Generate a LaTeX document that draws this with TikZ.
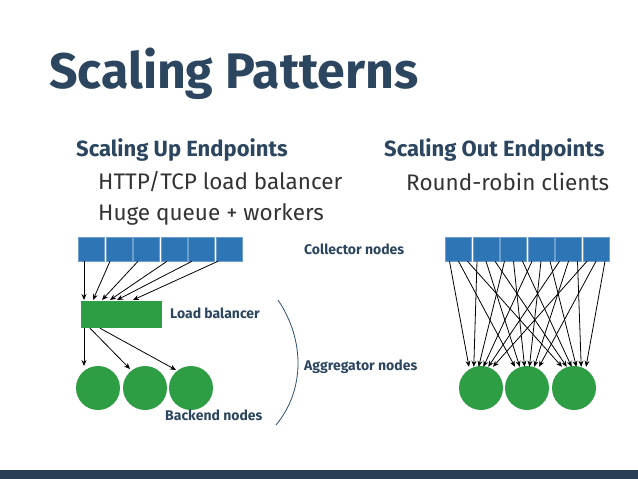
\documentclass[tikz,border=0pt]{standalone}
\usepackage{fontspec}
\setmainfont{Fira Sans}
\usetikzlibrary{arrows.meta,calc}
\definecolor{navy}{HTML}{2C4660}
\definecolor{sq}{HTML}{2E75B6}
\definecolor{gr}{HTML}{2E9E44}
\definecolor{txt}{HTML}{333333}
\begin{document}
\begin{tikzpicture}[x=1pt,y=-1pt,
  sqr/.style={fill=sq,draw=sq!70!white,minimum width=26pt,minimum height=24pt,inner sep=0,line width=0.5pt},
  circ/.style={circle,fill=gr,minimum size=44pt,inner sep=0},
  arr/.style={-{Stealth[length=6pt,width=5pt]},line width=0.8pt},
  lbl/.style={font=\bfseries\fontsize{14}{16}\selectfont,text=navy,inner sep=0},
  head/.style={font=\bfseries\fontsize{22}{26}\selectfont,text=navy,anchor=west,inner sep=0},
  body/.style={font=\fontsize{22.5}{26}\selectfont,text=txt,anchor=west,inner sep=0}]
\useasboundingbox (0,0) rectangle (638,479);
\fill[white] (0,0) rectangle (638,479);
\fill[navy!90!black] (0,470) rectangle (638,479);
\node[anchor=west,inner sep=0,font=\bfseries\fontsize{50}{58}\selectfont,text=navy] (title) at (49,74) {Scaling Patterns};
\node[head] (h1) at (76,150) {Scaling Up Endpoints};
\node[head] (h2) at (384,150) {Scaling Out Endpoints};
\node[body] (b1) at (98,182) {HTTP/TCP load balancer};
\node[body] (b2) at (406,182) {Round-robin clients};
\node[body] (b3) at (98,214) {Huge queue + workers};
% left
\foreach \i in {0,...,5} {
  \node[sqr] (L\i) at ({91.5+27.5*\i},249) {};
  \node[sqr] (R\i) at ({458.5+27.5*\i},249) {};
}
\node[fill=gr,minimum width=81pt,minimum height=27pt,inner sep=0] (lb) at (121.5,314.5) {};
\foreach \x/\c in {98/a,145/b,191/c} \node[circ] (B\c) at (\x,388) {};
\foreach \x/\c in {481/a,527/b,574/c} \node[circ] (A\c) at (\x,388) {};
\draw[arr] (L0.south -| 84,0) -- (84,300);
\draw[arr] (L1.south -| 110,0) -- (93,300);
\draw[arr] (L2.south -| 138,0) -- (102,300);
\draw[arr] (L3.south -| 167,0) -- (110,300);
\draw[arr] (L4.south -| 192,0) -- (117,300);
\draw[arr] (L5.south -| 218,0) -- (133,300);
\draw[arr] (lb.south -| 84,0) -- (84,366);
\draw[arr] (lb.south -| 90,0) -- (130,369);
\draw[arr] (lb.south -| 100,0) -- (176,370);
% right full mesh
\foreach \i in {0,...,5} {
  \foreach \c/\j in {a/0,b/1,c/2} {
    \draw[arr] ($(R\i.south)+({-9+9*\j},0)$) -- ($(A\c.north)+({-12+4.8*\i},1)$);
  }
}
\node[lbl,anchor=west] (cn) at (304,249) {Collector nodes};
\node[lbl,anchor=west] (lbt) at (170,313) {Load balancer};
\node[lbl,anchor=west] (an) at (304,367) {Aggregator nodes};
\node[lbl,anchor=west] (bn) at (165,415) {Backend nodes};
\draw[navy!80!sq,line width=0.8pt] (278,300) .. controls (305,340) and (305,390) .. (276,425);
\end{tikzpicture}
\end{document}
